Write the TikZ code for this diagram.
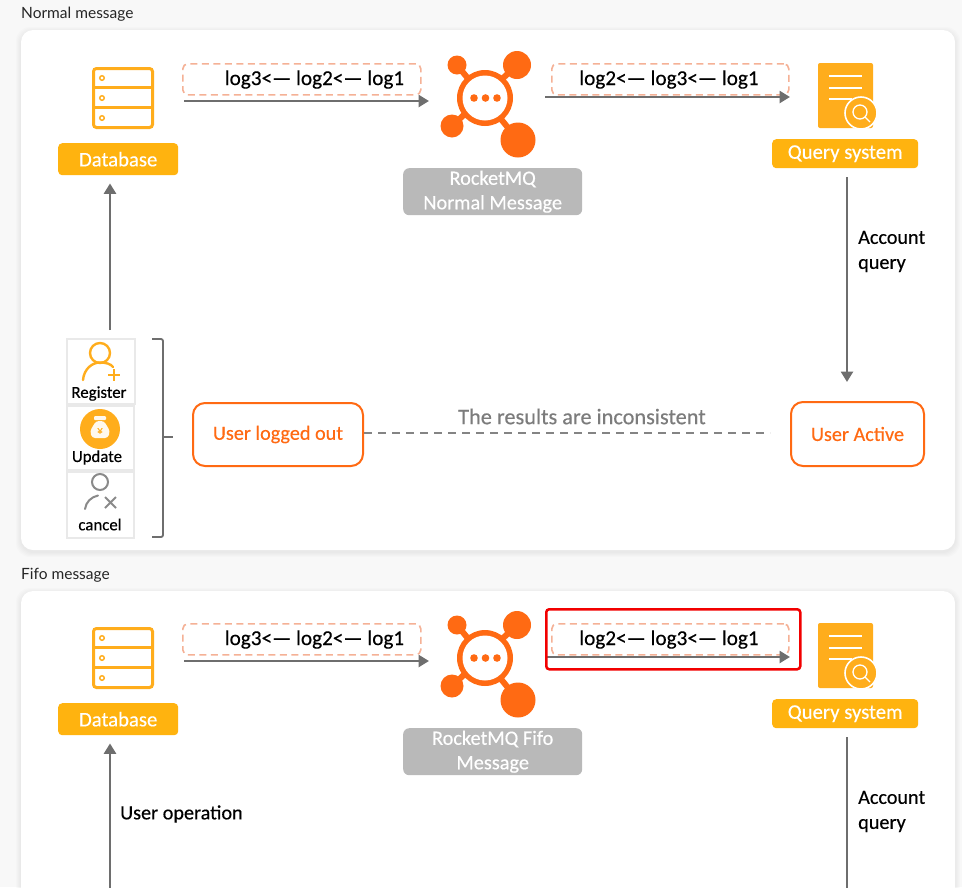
\documentclass[tikz,border=0pt]{standalone}
\usepackage{fontspec}
\setmainfont{Carlito}[RawFeature={embolden=0.35}]
\newfontfamily\titlefont{Lato}
\usetikzlibrary{arrows.meta,calc}
\definecolor{pagebg}{HTML}{F8F8F8}
\definecolor{amber}{HTML}{FFB30F}
\definecolor{iconamber}{HTML}{FFAD1C}
\definecolor{rust}{HTML}{FF6A13}
\definecolor{flowgray}{HTML}{6E6E6E}
\definecolor{dashpeach}{HTML}{F5B196}
\definecolor{tagray}{HTML}{B9B9B9}
\definecolor{cellgray}{HTML}{E9E9E9}
\definecolor{usergray}{HTML}{8A8A8A}
\tikzset{
  x=1pt,y=-1pt,
  panelbox/.style={fill=white,rounded corners=12pt,draw=none},
  tagbox/.style={fill=amber,rounded corners=4pt,text=white,font=\fontsize{20.7}{24}\selectfont,inner sep=0pt,anchor=north west},
  graytag/.style={fill=tagray,rounded corners=6pt,text=white,font=\fontsize{20.3}{24.5}\selectfont,align=center,inner sep=0pt,anchor=north west,minimum width=179pt,minimum height=47pt},
  logbox/.style={draw=dashpeach,line width=1.6pt,dash pattern=on 7pt off 4.5pt,rounded corners=5pt,anchor=north west,minimum height=31pt,inner sep=0pt},
  logtext/.style={font=\fontsize{21.2}{25}\selectfont,text=black,inner sep=0pt},
  flow/.style={draw=flowgray,line width=2.8pt,-{Triangle[length=10.5pt,width=12pt]}},
  plainflow/.style={draw=flowgray,line width=2.8pt},
  captext/.style={font=\fontsize{20.2}{25}\selectfont,text=black,align=left,inner sep=0pt,anchor=west},
  statebox/.style={draw=rust,line width=2pt,fill=white,rounded corners=12pt,text=rust,font=\fontsize{20.2}{24}\selectfont,inner sep=0pt,anchor=north west},
  cellbox/.style={draw=cellgray,line width=2pt,fill=white,inner sep=0pt,anchor=north west},
  celltext/.style={font=\fontsize{16.8}{18}\selectfont,text=black,inner sep=0pt},
  sectiontitle/.style={font=\titlefont\fontsize{15.5}{17}\selectfont,text=black!85,anchor=west,inner sep=0pt},
  pics/flowrow/.style 2 args={code={
    % database icon
    \draw[iconamber,line width=3pt,rounded corners=3pt] (93.5,68.5) rectangle (152.5,127.5);
    \draw[iconamber,line width=3pt] (93.5,87.5) -- (152.5,87.5) (93.5,107.5) -- (152.5,107.5);
    \foreach \yy in {78,98,118}{\draw[iconamber,line width=1.4pt,fill=white] (102,\yy) circle (2.3pt);}
    \node[tagbox,minimum width=120pt,minimum height=32pt] (-db) at (58,143) {\raisebox{-1.5pt}{Database}};
    % first log stage
    \node[logbox,minimum width=238pt] (-login) at (182,63) {};
    \node[logtext] (-logintext) at (314.5,79.5) {log3<— log2<— log1};
    \coordinate (-inA) at (184,101);
    \coordinate (-inB) at (429,101);
    \draw[flow] (-inA) -- (-inB);
    % broker icon
    \draw[rust,line width=6pt] (457,65) -- (518,140) (517,65) -- (452,126);
    \fill[rust] (457,65) circle (9.5pt) (517,65) circle (14pt) (452,126) circle (11.5pt) (518,140) circle (17.5pt);
    \fill[rust] (485,98) circle (28pt);
    \fill[white] (485,98) circle (22.5pt);
    \fill[rust] (474,98) circle (3.8pt) (485.5,98) circle (3.8pt) (497,98) circle (3.8pt);
    \node[graytag] (-broker) at (403,168) {#1};
    % second log stage
    \node[logbox,minimum width=237pt] (-logout) at (551,63) {};
    \node[logtext] (-logouttext) at (669,79.5) {log2<— log3<— log1};
    \coordinate (-outA) at (545,97);
    \coordinate (-outB) at (790,97);
    \draw[flow] (-outA) -- (-outB);
    % query icon
    \fill[iconamber,rounded corners=2pt] (818,63) rectangle (873,128);
    \draw[white,line width=2.6pt] (829,76) -- (862,76) (829,88) -- (862,88) (829,99) -- (852,99);
    \fill[iconamber] (861,113) circle (16pt);
    \draw[white,line width=1.6pt] (861,113) circle (16pt);
    \draw[white,line width=1.3pt] (860,112) circle (7pt) (865,117) -- (870,122);
    \node[tagbox,minimum width=146pt,minimum height=29pt] (-query) at (772,139) {\raisebox{-3pt}{Query system}};
    \node[captext] (-acct) at (858,#2) {Account\\query};
  }}
}
\begin{document}
\begin{tikzpicture}
\useasboundingbox (0,0) rectangle (962,887);
\clip (0,0) rectangle (962,887);
\fill[pagebg] (0,0) rectangle (962,887);
% panel shadows
\foreach \g in {5,4,3,2,1}{
  \fill[black,opacity=.012,rounded corners=14pt] ($(21,30)+(-\g,-\g+2)$) rectangle ($(955,550)+(\g,\g+2)$);
  \fill[black,opacity=.012,rounded corners=14pt] ($(21,591)+(-\g,-\g+2)$) rectangle ($(955,1000)+(\g,\g+2)$);
}
\fill[panelbox] (21,30) rectangle (955,550);
\fill[panelbox] (21,591) rectangle (955,1000);
\node[sectiontitle] (t1) at (21,14) {Normal message};
\node[sectiontitle] (t2) at (21,575) {Fifo message};

% ---- upper flow ----
\pic (n) at (0,0) {flowrow={RocketMQ\\Normal Message}{251.5}};
\coordinate (nOpStart) at (110,330);
\draw[flow,shorten >=8pt] (nOpStart) -- (n-db.south -| nOpStart);
\coordinate (nQueryArrow) at (847,382);
\draw[flow,shorten <=9pt] (n-query.south -| nQueryArrow) -- (nQueryArrow);

% operation cells
\node[cellbox,minimum width=68pt,minimum height=65pt] (cReg) at (66,338) {};
\node[cellbox,minimum width=67pt,minimum height=64pt] (cUpd) at (66,405) {};
\node[cellbox,minimum width=67pt,minimum height=66pt] (cCan) at (66,471) {};
% register icon
\draw[iconamber,line width=2.4pt] (100,353) circle (10pt);
\draw[iconamber,line width=2.4pt,line cap=round] (83,380) .. controls (84,369) and (92,362.5) .. (100,362.5) .. controls (106,362.5) and (111,364) .. (113,367);
\draw[iconamber,line width=2.4pt] (108,375) -- (120,375) (114,369) -- (114,381);
\node[celltext] (lReg) at (99,393.5) {Register};
% update icon
\fill[iconamber] (100,429) circle (20pt);
\fill[white,opacity=.92,rounded corners=3pt] (96,421) -- (104,421) -- (110,431) -- (108,438) -- (92,438) -- (90,431) -- cycle;
\fill[white,opacity=.92,rounded corners=1pt] (94,416) rectangle (106,420);
\node[inner sep=0pt,text=iconamber,font=\fontsize{11}{12}\selectfont] (yen) at (100,431) {¥};
\node[celltext] (lUpd) at (97,457.5) {Update};
% cancel icon
\draw[usergray,line width=2pt] (100,482) circle (8pt);
\draw[usergray,line width=2pt,line cap=round] (85,509) .. controls (86,502) and (91,497) .. (98,495.5);
\draw[usergray,line width=2pt] (105,497) -- (116,508) (116,497) -- (105,508);
\node[celltext] (lCan) at (100,524.5) {cancel};
% bracket
\coordinate (brT) at (152,339);
\coordinate (brB) at (152,537);
\coordinate (brM) at (173,437);
\draw[flowgray,line width=1.8pt,rounded corners=2pt] (brT) -- (163,339) -- (163,537) -- (brB);
\draw[flowgray,line width=1.8pt] (163,437) -- (brM);
% states
\node[statebox,minimum width=170pt,minimum height=63pt] (sOut) at (192,402) {\raisebox{-1.5pt}{User logged out}};
\node[statebox,minimum width=133pt,minimum height=64pt] (sAct) at (790,401) {\raisebox{-1.5pt}{User Active}};
\coordinate (gapEnd) at (770,433);
\draw[flowgray!85,line width=1.8pt,dash pattern=on 8pt off 6pt] (sOut.east |- gapEnd) -- (gapEnd);
\node[inner sep=0pt,text=flowgray!90,font=\fontsize{22.3}{26}\selectfont] (gapText) at (582,416.5) {The results are inconsistent};

% ---- lower flow ----
\pic (f) at (0,560) {flowrow={RocketMQ Fifo\\Message}{251.5}};
\coordinate (fOpStart) at (110,890);
\draw[flow,shorten >=8pt] (fOpStart) -- (f-db.south -| fOpStart);
\node[captext] (fOpText) at (120,814) {User operation};
\coordinate (fQueryEnd) at (847,890);
\draw[plainflow,shorten <=9pt] (f-query.south -| fQueryEnd) -- (fQueryEnd);
% highlight
\node[draw=red!95!black,line width=2.5pt,rounded corners=3pt,inner sep=0pt,anchor=north west,minimum width=254pt,minimum height=60pt] (hl) at (545,608) {};
\end{tikzpicture}
\end{document}
